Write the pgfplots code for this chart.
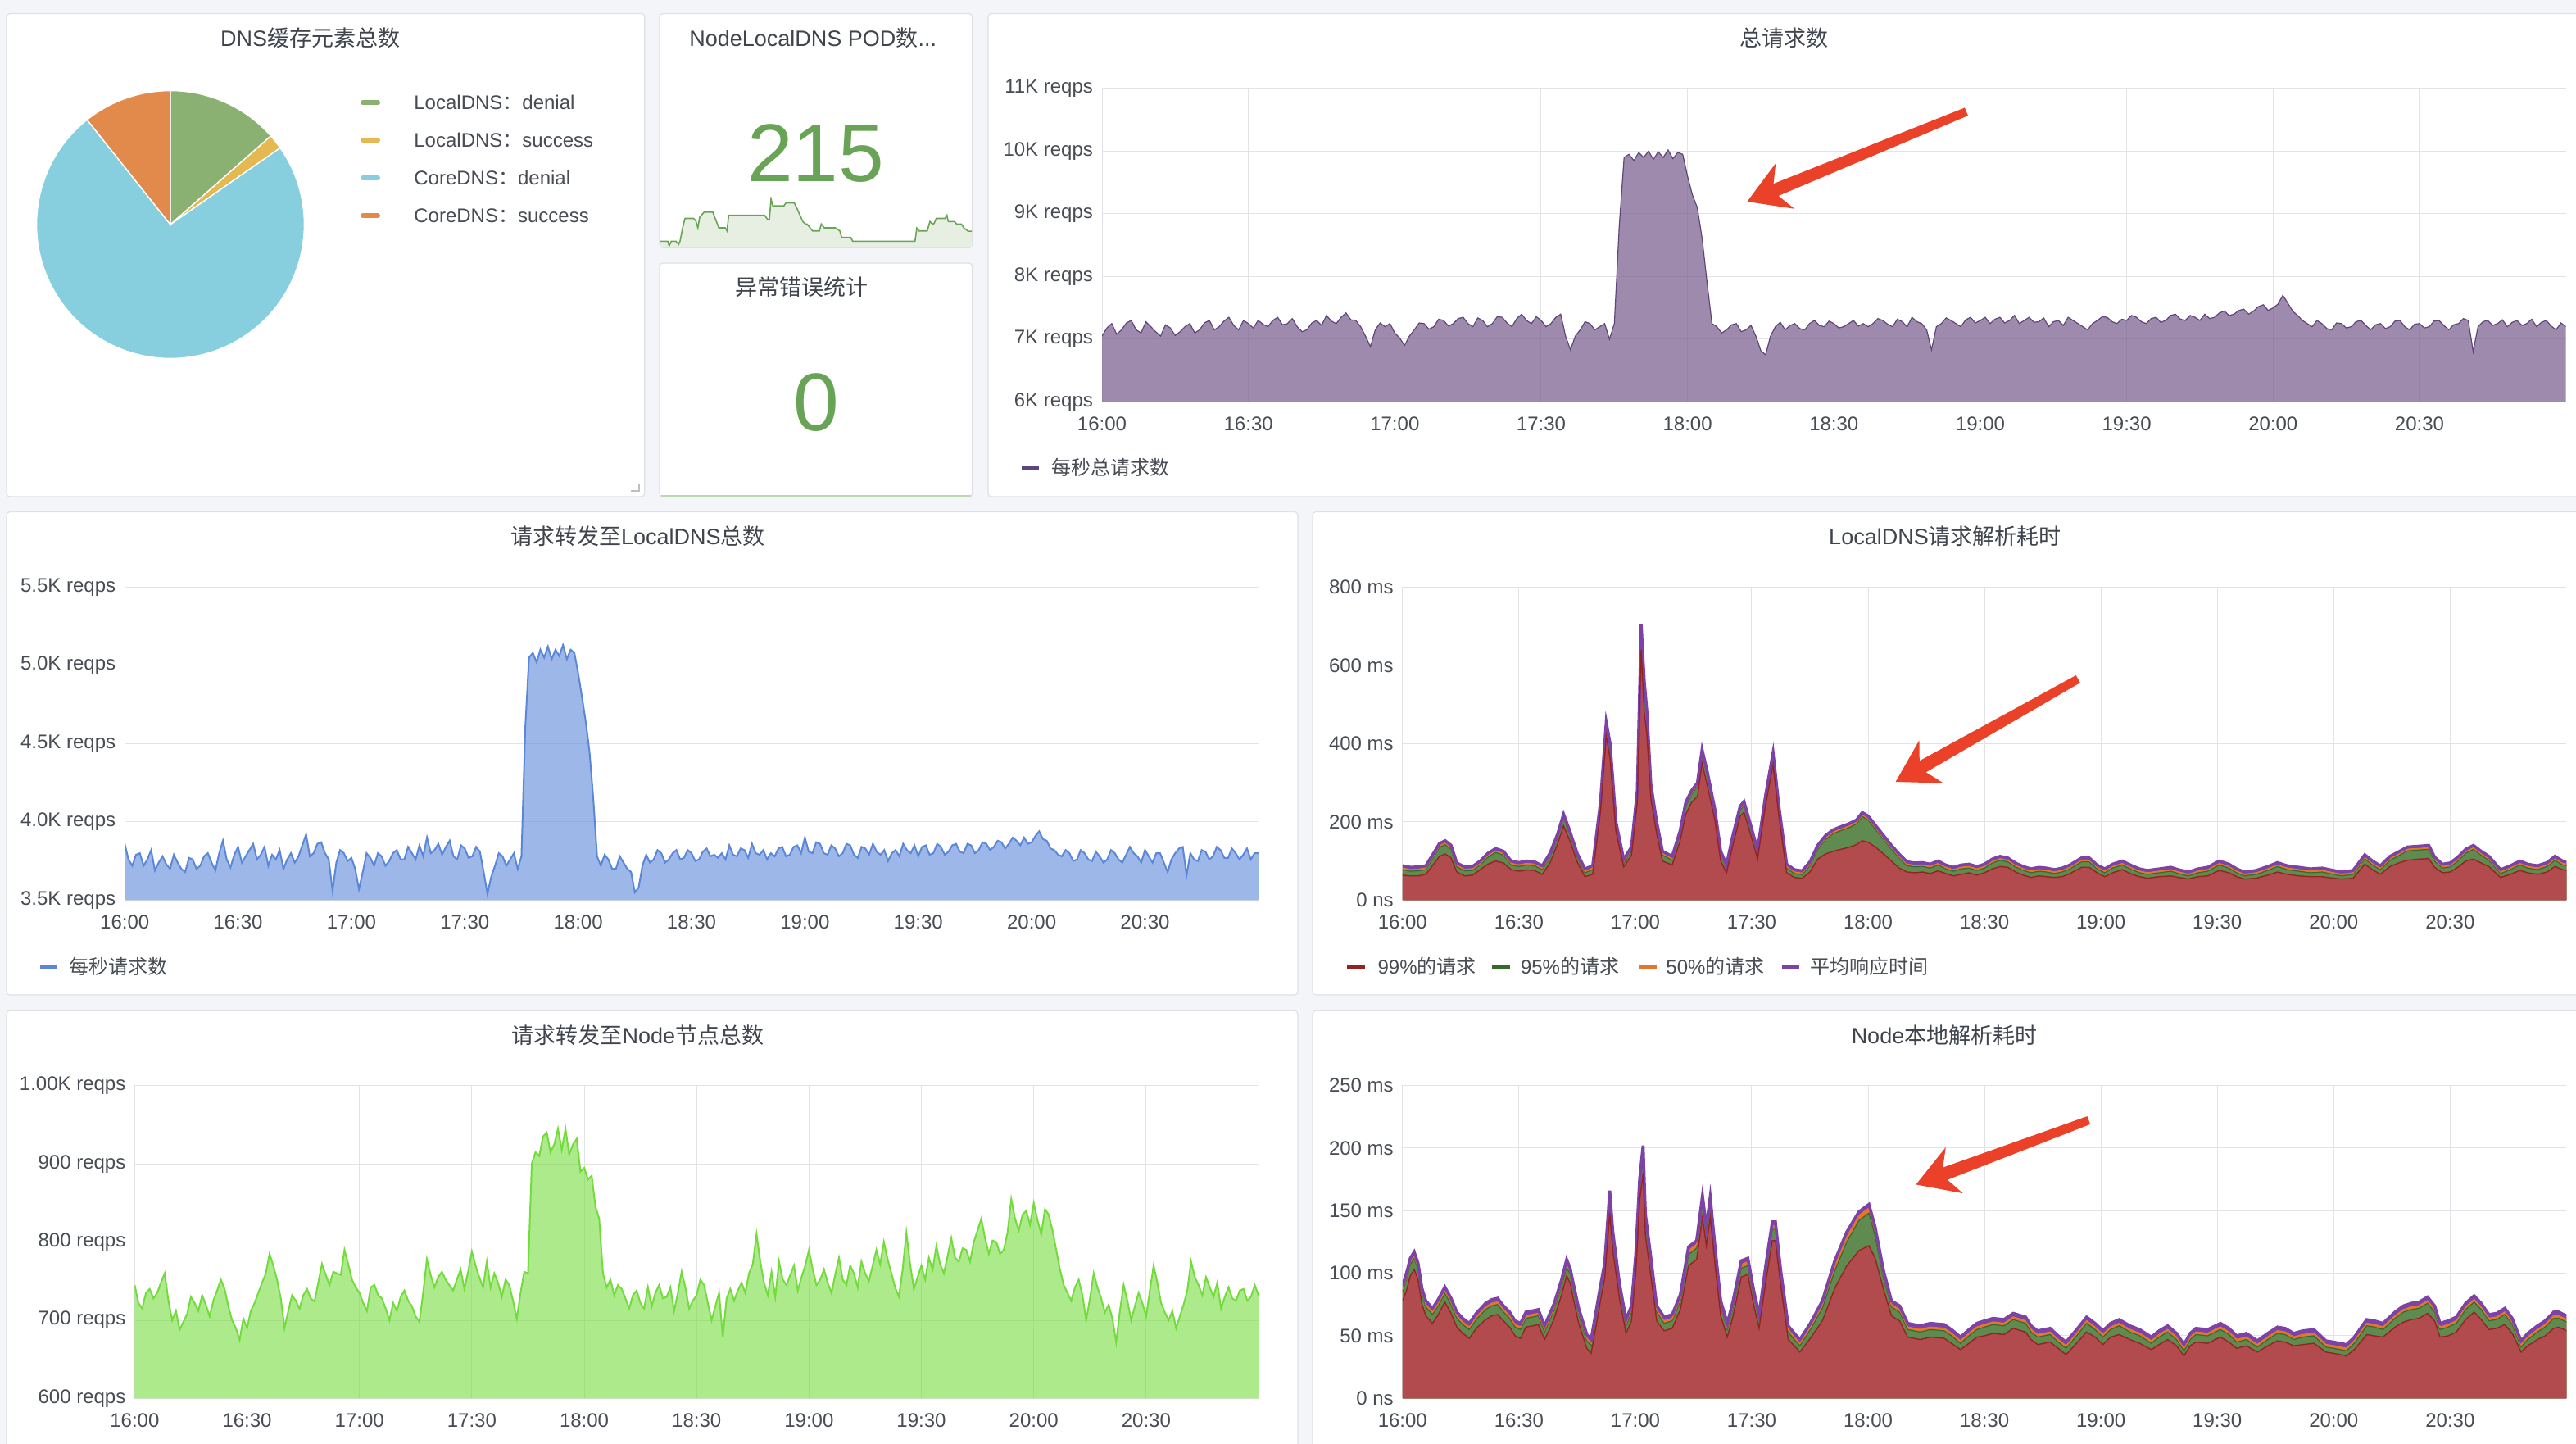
\documentclass[border=0pt]{standalone}
\usepackage{fontspec}
\setmainfont{Liberation Sans}
\newfontfamily\cjk{Noto Sans CJK SC}
\usepackage{pgfplots}
\pgfplotsset{compat=1.18}
\usepackage{pgfplotstable}

\definecolor{bgc}{RGB}{244,245,248}
\definecolor{panelb}{RGB}{222,224,228}
\definecolor{titlec}{RGB}{64,68,76}
\definecolor{tickc}{RGB}{72,76,84}
\definecolor{gridc}{RGB}{226,227,230}
\definecolor{pgreen}{RGB}{138,176,114}
\definecolor{pyellow}{RGB}{229,185,82}
\definecolor{pblue}{RGB}{135,206,222}
\definecolor{porange}{RGB}{226,138,76}
\definecolor{statg}{RGB}{105,163,85}
\definecolor{sparkf}{RGB}{230,239,225}
\definecolor{totl}{RGB}{95,70,122}
\definecolor{totf}{RGB}{118,89,138}
\definecolor{locl}{RGB}{90,135,215}
\definecolor{locf}{RGB}{93,137,217}
\definecolor{nodl}{RGB}{115,220,60}
\definecolor{nodf}{RGB}{117,220,63}
\definecolor{latr}{RGB}{178,75,77}
\definecolor{latrl}{RGB}{150,35,35}
\definecolor{latg}{RGB}{96,139,80}
\definecolor{latgl}{RGB}{55,105,40}
\definecolor{lato}{RGB}{224,118,48}
\definecolor{latp}{RGB}{124,66,168}
\definecolor{arrowc}{RGB}{234,65,40}

% requests per second: total, forwarded to LocalDNS, forwarded to node
\pgfplotstableread{
t tot loc nod
0 7050 3860 745
1 7180 3760 722
2 7250 3720 715
3 7080 3790 735
4 7150 3800 740
5 7260 3720 728
6 7300 3760 735
7 7150 3820 748
8 7100 3690 760
9 7280 3740 725
10 7200 3780 700
11 7120 3730 712
12 7050 3700 688
13 7230 3790 698
14 7180 3740 708
15 7060 3700 730
16 7120 3680 722
17 7200 3770 712
18 7250 3760 732
19 7100 3700 720
20 7150 3720 705
21 7260 3780 725
22 7300 3800 738
23 7150 3740 752
24 7200 3690 740
25 7290 3800 718
26 7350 3880 700
27 7220 3760 690
28 7150 3710 675
29 7300 3790 702
30 7250 3840 690
31 7180 3740 712
32 7300 3780 722
33 7240 3820 735
34 7200 3860 748
35 7300 3760 760
36 7350 3790 785
37 7230 3840 770
38 7250 3720 752
39 7330 3790 728
40 7200 3760 690
41 7120 3820 712
42 7150 3700 732
43 7260 3760 725
44 7300 3800 715
45 7220 3740 732
46 7380 3780 740
47 7290 3850 728
48 7250 3920 724
49 7350 3780 748
50 7420 3800 772
51 7310 3860 758
52 7300 3870 745
53 7200 3800 762
54 7050 3760 760
55 6880 3560 758
56 7150 3740 790
57 7260 3820 772
58 7200 3800 752
59 7250 3750 742
60 7100 3770 735
61 7020 3700 722
62 6900 3570 712
63 7050 3680 742
64 7150 3800 745
65 7260 3770 732
66 7250 3720 728
67 7160 3800 715
68 7200 3780 700
69 7320 3720 722
70 7300 3750 712
71 7210 3800 730
72 7250 3820 738
73 7330 3760 725
74 7350 3760 718
75 7250 3840 705
76 7200 3800 698
77 7340 3760 735
78 7300 3850 778
79 7200 3780 758
80 7250 3900 742
81 7360 3800 755
82 7350 3820 762
83 7260 3860 752
84 7200 3790 745
85 7330 3840 738
86 7400 3880 752
87 7300 3780 765
88 7250 3760 740
89 7360 3850 762
90 7300 3830 788
91 7200 3770 770
92 7250 3780 755
93 7350 3840 742
94 7400 3810 775
95 7050 3680 742
96 6830 3540 760
97 7050 3650 748
98 7150 3720 730
99 7280 3800 752
100 7250 3780 745
101 7150 3720 725
102 7200 3760 702
103 7250 3800 735
104 7000 3700 762
105 7250 3780 760
106 8800 4600 900
107 9900 5050 915
108 9950 5080 910
109 9850 5020 935
110 9980 5100 940
111 9900 5050 915
112 10000 5120 925
113 9870 5040 945
114 9990 5100 918
115 9900 5060 945
116 10020 5130 912
117 9880 5040 925
118 9980 5100 932
119 9950 5080 890
120 9600 4950 895
121 9300 4800 880
122 9100 4640 885
123 8600 4450 845
124 7900 4150 830
125 7250 3780 760
126 7200 3720 742
127 7100 3790 752
128 7150 3760 732
129 7230 3700 745
130 7250 3700 740
131 7120 3780 728
132 7150 3740 715
133 7220 3700 732
134 7050 3680 738
135 6820 3550 722
136 6750 3580 715
137 7050 3720 742
138 7200 3790 718
139 7270 3740 735
140 7150 3760 745
141 7220 3820 728
142 7250 3800 730
143 7170 3740 742
144 7150 3760 712
145 7250 3800 735
146 7300 3820 762
147 7220 3760 742
148 7200 3770 715
149 7290 3820 725
150 7250 3800 732
151 7180 3750 752
152 7200 3760 745
153 7250 3810 722
154 7300 3830 700
155 7210 3780 718
156 7250 3790 735
157 7200 3770 678
158 7250 3800 728
159 7330 3760 740
160 7300 3850 725
161 7240 3790 738
162 7200 3780 748
163 7320 3830 735
164 7280 3820 760
165 7200 3770 772
166 7350 3860 810
167 7280 3800 775
168 7250 3790 748
169 7150 3820 732
170 6830 3760 762
171 7200 3800 730
172 7250 3780 775
173 7340 3830 752
174 7300 3840 745
175 7250 3780 758
176 7200 3790 770
177 7310 3840 738
178 7350 3850 755
179 7260 3800 770
180 7300 3900 790
181 7350 3810 765
182 7250 3800 745
183 7320 3870 752
184 7350 3860 765
185 7260 3800 748
186 7300 3790 735
187 7380 3850 758
188 7250 3830 780
189 7300 3780 752
190 7350 3800 745
191 7270 3860 770
192 7280 3850 760
193 7340 3790 742
194 7200 3770 775
195 7280 3840 760
196 7300 3830 750
197 7220 3790 770
198 7350 3860 790
199 7300 3810 772
200 7250 3790 800
201 7200 3820 778
202 7150 3750 760
203 7250 3800 742
204 7300 3820 730
205 7360 3780 765
206 7350 3860 812
207 7280 3820 772
208 7250 3800 740
209 7320 3850 755
210 7300 3780 770
211 7380 3840 752
212 7350 3850 780
213 7280 3790 765
214 7250 3800 795
215 7330 3860 772
216 7350 3840 760
217 7270 3790 782
218 7300 3810 805
219 7380 3850 780
220 7400 3860 775
221 7320 3810 792
222 7300 3800 790
223 7380 3860 775
224 7350 3850 800
225 7300 3800 815
226 7400 3820 830
227 7330 3870 805
228 7350 3860 785
229 7420 3820 802
230 7450 3840 800
231 7380 3880 785
232 7400 3870 790
233 7460 3830 812
234 7480 3860 855
235 7400 3900 830
236 7450 3880 815
237 7520 3850 835
238 7550 3900 840
239 7460 3860 822
240 7500 3870 850
241 7560 3910 828
242 7700 3940 810
243 7580 3890 842
244 7450 3880 835
245 7380 3830 815
246 7300 3820 790
247 7250 3790 765
248 7200 3780 745
249 7300 3820 735
250 7250 3800 725
251 7170 3750 742
252 7150 3760 752
253 7260 3820 732
254 7250 3800 700
255 7180 3760 728
256 7200 3750 760
257 7280 3810 742
258 7300 3780 728
259 7220 3740 710
260 7150 3760 720
261 7230 3820 702
262 7250 3800 672
263 7170 3760 712
264 7200 3740 745
265 7290 3790 725
266 7300 3840 700
267 7200 3800 718
268 7150 3780 735
269 7240 3740 722
270 7250 3820 705
271 7180 3780 738
272 7200 3740 770
273 7290 3800 748
274 7300 3800 722
275 7220 3740 710
276 7150 3680 700
277 7230 3760 712
278 7250 3800 690
279 7330 3830 705
280 7300 3840 720
281 6800 3660 738
282 7200 3800 775
283 7280 3760 755
284 7300 3750 745
285 7220 3820 732
286 7250 3810 755
287 7310 3760 742
288 7200 3780 730
289 7270 3840 748
290 7300 3820 715
291 7220 3770 730
292 7250 3770 742
293 7320 3830 728
294 7200 3800 725
295 7270 3760 738
296 7300 3790 740
297 7210 3830 725
298 7150 3760 730
299 7260 3800 745
300 7200 3800 732
}\req

% LocalDNS latency (ms): tops of the 99%, 95%, 50% and mean bands
\pgfplotstableread{
t r g o p
0 64 78 82 88
2 62 74 78 84
4 62 75 79 85
6 66 78 82 88
8 92 110 114 120
9.5 112 135 139 145
11 118 142 146 152
12.5 108 130 134 140
14 72 85 89 95
16 62 75 79 85
18 64 76 80 86
20 78 90 94 100
22 92 110 114 120
24 100 122 126 132
26 95 115 119 125
28 78 90 94 100
30 74 86 90 96
32 77 90 94 100
34 76 88 92 98
36 66 78 82 88
38 95 110 114 120
40 145 160 164 170
41.5 190 210 214 220
43 155 170 174 180
45 98 110 114 120
47 60 70 74 80
49 66 78 82 88
51 225 240 244 250
52.5 420 445 449 455
53.5 360 390 394 400
55 175 190 194 200
57 85 94 98 104
59 115 126 130 136
60.5 250 270 274 280
61.5 640 695 699 705
62.3 480 550 554 560
63 420 470 474 480
64 260 286 290 296
65.5 170 190 194 200
67 100 115 119 125
69.5 90 102 106 112
71.5 150 166 170 176
73 220 240 244 250
74.5 250 270 274 280
76 265 290 294 300
77.2 350 375 379 385
78.5 295 320 324 330
80.5 205 222 226 232
82 100 115 119 125
83.5 70 80 84 90
85 135 150 154 160
87 215 230 234 240
88 225 242 246 252
89.5 175 190 194 200
91.5 105 118 122 128
93.5 240 254 258 264
95.5 345 367 371 377
97 215 230 234 240
99 70 82 86 92
101 58 68 72 78
103 56 65 69 75
105 72 88 92 98
107 105 130 134 140
109 118 155 159 165
111 125 170 174 180
113 130 178 182 188
115 135 185 189 195
117 142 195 199 205
118.5 152 214 218 224
120 148 205 209 215
122 135 180 184 190
124 118 155 159 165
126 100 130 134 140
128 82 108 112 118
130 72 88 92 98
132 70 85 89 95
134 72 86 90 96
136 68 82 86 92
138 75 90 94 100
140 68 80 84 90
142 62 74 78 84
144 66 80 84 90
146 70 82 86 92
148 64 76 80 86
150 70 82 86 92
152 80 95 99 105
154 86 102 106 112
156 84 98 102 108
158 72 85 89 95
160 64 76 80 86
162 58 70 74 80
164 62 74 78 84
166 60 72 76 82
168 58 68 72 78
170 60 72 76 82
172 68 80 84 90
175 84 98 102 108
177 84 98 102 108
179 70 80 84 90
181 60 70 74 80
183 70 82 86 92
185.5 78 90 94 100
188 66 78 82 88
190 60 70 74 80
192 56 66 70 76
195 60 70 74 80
198 62 74 78 84
200 58 68 72 78
202.5 54 62 66 72
205 60 70 74 80
207.5 62 74 78 84
210.5 76 90 94 100
213 70 82 86 92
215 60 70 74 80
217 54 62 66 72
220 56 66 70 76
223 64 76 80 86
225.5 72 86 90 96
228 66 78 82 88
231 62 74 78 84
234 60 70 74 80
237 60 72 76 82
240 56 66 70 76
242 54 62 66 72
245 56 66 70 76
248 92 106 110 116
250 78 90 94 100
252 66 78 82 88
254.5 86 102 106 112
257 96 115 119 125
259 102 126 130 136
262 105 128 132 138
264.5 106 130 134 140
266 84 100 104 110
268 70 82 86 92
270 72 85 89 95
272 84 100 104 110
274 100 120 124 130
276 105 130 134 140
278 95 115 119 125
280 86 102 106 112
283 58 68 72 78
285.5 66 78 82 88
288 76 90 94 100
290 70 82 86 92
292.5 66 78 82 88
295 72 86 90 96
297 86 102 106 112
299 78 90 94 100
300 76 88 92 98
}\latA

% Node local latency (ms)
\pgfplotstableread{
t r g o p
0 78 85 87 90
1 86 95 97 100
2 98 107 109 112
3 103 112 114 117
4 95 103 105 108
5 75 83 85 88
6 66 73 75 78
7.7 60 67 69 72
9 66 73 75 78
10.9 77 84 86 89
12.5 68 75 77 80
14 57 64 66 69
15.5 52 59 61 64
17.2 48 55 57 60
19 56 63 65 68
21.4 63 71 73 76
23 66 74 76 79
24.5 67 75 77 80
26 62 69 71 74
27.6 57 64 66 69
29 50 57 59 62
30.4 48 55 57 60
31.8 57 64 66 69
33.5 58 65 67 70
35 59 66 68 71
36.6 47 53 55 58
38 56 63 65 68
39.1 64 71 73 76
41 83 90 92 95
42.3 98 105 108 111
43.2 92 99 101 104
44 80 87 89 92
45.4 60 67 69 72
47.5 40 46 48 51
48.6 36 42 44 47
50 60 67 69 72
51 78 85 87 90
52.1 96 103 105 108
53.4 148 160 163 166
54.2 118 127 130 133
55.9 80 87 89 92
57.6 52 58 60 63
59 62 69 71 74
60.1 100 109 112 115
61.1 158 169 172 175
62 180 196 199 202
62.6 130 141 144 147
63.9 100 109 112 115
65.5 62 69 71 74
67.4 54 60 62 65
69.5 56 62 64 67
71.6 71 78 80 83
73.7 106 115 118 121
75.8 111 120 123 126
77.3 145 156 159 162
78.3 122 131 134 137
79.3 145 155 158 161
80.6 105 113 116 119
82 66 73 75 78
83.7 49 55 57 60
85.2 66 73 75 78
87.3 97 104 107 110
89 99 106 109 112
90.4 76 83 85 88
91.9 56 62 64 67
93.6 93 100 103 106
95.3 126 135 138 141
96.1 126 135 138 141
97.4 92 98 101 104
99.4 47 53 55 58
101 42 47 49 52
102.4 37 42 44 47
105.1 48 55 57 60
108.2 62 72 75 78
111.4 88 102 106 110
114.5 106 125 129 133
117.6 118 142 146 149
120.2 122 148 152 155
121.8 112 130 134 137
123.9 88 97 100 103
126 66 73 75 78
128.1 62 69 71 74
130.2 49 55 57 60
133.4 47 53 55 58
136 49 55 57 60
139.6 48 54 56 59
141.5 44 50 52 55
143.8 39 44 46 49
146 44 50 52 55
148 49 55 57 60
150 50 57 59 62
152.2 52 59 61 64
155 51 58 60 63
157.4 56 63 65 68
160.6 53 60 62 65
162 47 53 55 58
163.7 43 49 51 54
166.9 45 51 53 56
169 40 45 47 50
171 35 40 42 45
174 45 51 53 56
176.3 53 60 62 65
178.5 49 55 57 60
180.5 43 49 51 54
182.5 49 55 57 60
184.7 51 58 60 63
187.5 47 53 55 58
190 44 50 52 55
193 39 44 46 49
195 43 49 51 54
197.2 47 53 55 58
199.5 42 47 49 52
201.4 34 38 40 43
203 42 47 49 52
204.5 45 51 53 56
207.5 44 50 52 55
210.8 49 55 57 60
213 45 51 53 56
215 40 45 47 50
217.5 42 47 49 52
220.3 37 41 43 46
223 42 47 49 52
225.5 46 52 54 57
227.5 45 51 53 56
229.7 42 47 49 52
232 43 49 51 54
234.9 44 50 52 55
238 37 41 43 46
240 36 40 42 45
243.3 34 38 40 43
245.3 39 44 46 49
248.5 51 58 60 63
250.5 50 57 59 62
252.7 49 55 57 60
255.8 57 64 66 69
258 61 69 71 74
260 63 71 73 76
262 64 72 74 77
264.2 68 76 78 81
266 62 69 71 74
267.4 49 55 57 60
269.5 50 57 59 62
271.6 53 60 62 65
274 63 71 73 76
276.2 69 77 79 82
278 63 71 73 76
280 55 62 64 67
282 56 63 65 68
284.1 59 67 69 72
286 52 59 61 64
288.3 37 41 43 46
290 42 47 49 52
292.5 47 53 55 58
294.5 50 57 59 62
296.7 56 64 66 69
298 57 64 66 69
300 54 61 63 66
}\latB

% NodeLocalDNS pod count sparkline
\pgfplotstableread{
t v
0 212.0
7.1 212.0
8.4 210.5
10.5 212.0
15.0 212.0
17.6 211.0
18.9 212.0
21.6 216.5
23.7 219.3
32.1 219.3
34.2 218.5
36.1 216.3
37.9 219.7
42.1 221.3
50.5 221.3
52.6 219.5
56.3 216.3
62.4 216.3
64.2 215.3
65.8 220.3
100.5 220.3
103.2 219.0
105.0 219.0
106.6 225.5
108.4 223.3
118.9 223.3
121.1 224.3
128.9 224.3
131.6 222.5
137.4 218.2
140.0 217.5
141.3 217.5
146.6 215.3
153.2 215.3
155.0 217.5
157.9 216.3
168.4 216.3
172.9 215.3
174.7 213.2
183.4 213.2
185.3 212.0
245.3 212.0
247.1 216.2
249.2 215.3
257.1 215.3
259.7 218.3
262.4 217.5
263.7 217.7
265.8 219.3
274.2 219.3
276.1 220.3
277.4 218.3
283.4 218.3
285.5 217.5
290.0 217.5
292.6 216.2
296.6 215.2
300 215.2
}\pods

\newcommand{\tk}{\fontsize{12}{14}\selectfont}
\newcommand{\ttl}{\fontsize{13.5}{16}\selectfont}

\pgfplotsset{
  gf/.style={
    scale only axis, anchor=south west,
    xmin=0, xmax=300,
    axis line style={draw=none},
    tick style={draw=none},
    grid=major,
    major grid style={draw=gridc, line width=0.5pt},
    xtick={0,30,...,270},
    xticklabels={16:00,16:30,17:00,17:30,18:00,18:30,19:00,19:30,20:00,20:30},
    ticklabel style={font=\tk, text=tickc},
    xticklabel style={yshift=-5.5pt},
    yticklabel style={xshift=-2pt},
    scaled y ticks=false,
    /pgf/number format/assume math mode=true,
    no markers,
  }
}

\newcommand{\redarrow}[4]{%
  \fill[arrowc, shift={(#1,#2)}, rotate=#3] (0,0) -- (25,-15) -- (19,-4) -- (#4,-2.6) -- (#4,2.6) -- (19,4) -- (25,15) -- cycle;}

\begin{document}
\begin{tikzpicture}[x=1pt,y=1pt]
\useasboundingbox (0,0) rectangle (1572,881);
\fill[bgc] (0,0) rectangle (1572,881);

% panels
\begin{scope}[fill=white, draw=panelb, line width=0.6pt, rounded corners=2pt]
\filldraw (4,578) rectangle (393.4,872.7);
\filldraw (402.5,729.8) rectangle (593.3,872.7);
\filldraw (402.5,578) rectangle (593.3,720.5);
\filldraw (603,578) rectangle (1590,872.7);
\filldraw (4,274) rectangle (792,568.7);
\filldraw (801,274) rectangle (1590,568.7);
\filldraw (4,-10) rectangle (792,264.4);
\filldraw (801,-10) rectangle (1590,264.4);
\end{scope}
\draw[gray!50, line width=0.8pt] (385,581.5) -- (390,581.5) -- (390,586);

% titles
\node[font=\ttl, text=titlec] at (189.3,857.7) {DNS{\cjk 缓存元素总数}};
\node[font=\ttl, text=titlec] at (496.1,857.7) {NodeLocalDNS POD{\cjk 数}...};
\node[font=\ttl, text=titlec] at (489,706.1) {\cjk 异常错误统计};
\node[font=\ttl, text=titlec] at (1088.8,857.7) {\cjk 总请求数};
\node[font=\ttl, text=titlec] at (389.2,553.8) {{\cjk 请求转发至}LocalDNS{\cjk 总数}};
\node[font=\ttl, text=titlec] at (1187,553.8) {LocalDNS{\cjk 请求解析耗时}};
\node[font=\ttl, text=titlec] at (389.2,249.4) {{\cjk 请求转发至}Node{\cjk 节点总数}};
\node[font=\ttl, text=titlec] at (1186.5,249.4) {Node{\cjk 本地解析耗时}};

% pie: cache entries
\def\pcum{0}
\foreach \v/\c in {13.5/pgreen,1.8/pyellow,74.0/pblue,10.7/porange}{
  \pgfmathsetmacro\aa{90-3.6*\pcum}
  \pgfmathsetmacro\bb{90-3.6*(\pcum+\v)}
  \filldraw[fill=\c, draw=white, line width=0.7pt] (104,744) -- ++(\aa:81.7) arc[start angle=\aa, end angle=\bb, radius=81.7] -- cycle;
  \pgfmathsetmacro\pnew{\pcum+\v}
  \global\let\pcum\pnew
}
\foreach \c/\yy/\txt in {pgreen/818.4/{LocalDNS{\cjk ：}denial},pyellow/795.4/{LocalDNS{\cjk ：}success},pblue/772.5/{CoreDNS{\cjk ：}denial},porange/749.4/{CoreDNS{\cjk ：}success}}{
  \draw[\c, line width=3pt, line cap=round] (221.5,\yy) -- (230.5,\yy);
  \node[anchor=west, inner sep=0, font=\tk, text=tickc] at (252.5,\yy) {\txt};
}

% stat panels
\begin{axis}[at={(403pt,730pt)}, anchor=south west, scale only axis, width=190pt, height=30.5pt,
  hide axis, xmin=0, xmax=300, ymin=210, ymax=226]
\addplot[draw=none, fill=sparkf] table[x=t,y=v]{\pods} \closedcycle;
\addplot[statg, line width=0.8pt] table[x=t,y=v]{\pods};
\end{axis}
\node[font=\fontsize{50}{60}\selectfont, text=statg] at (497.8,787.4) {215};
\node[font=\fontsize{50}{60}\selectfont, text=statg] at (498,635.6) {0};
\draw[statg!45, line width=0.8pt] (403.5,578.6) -- (592.5,578.6);

% total requests
\begin{axis}[gf, at={(672.5pt,635.8pt)}, width=893.3pt, height=191.2pt,
  ymin=6000, ymax=11000, ytick={6000,7000,...,11000},
  yticklabels={6K reqps,7K reqps,8K reqps,9K reqps,10K reqps,11K reqps}]
\addplot[draw=none, fill=totf, fill opacity=0.7] table[x=t,y=tot]{\req} \closedcycle;
\addplot[totl, line width=0.6pt] table[x=t,y=tot]{\req};
\end{axis}
\draw[totl, line width=2pt] (623.6,595.7) -- (634,595.7);
\node[anchor=west, inner sep=0, font=\tk, text=tickc] at (641.5,595.7) {\cjk 每秒总请求数};

% forwarded to LocalDNS
\begin{axis}[gf, at={(76.1pt,331.8pt)}, width=691.8pt, height=191pt,
  ymin=3500, ymax=5500, ytick={3500,4000,4500,5000,5500},
  yticklabels={3.5K reqps,4.0K reqps,4.5K reqps,5.0K reqps,5.5K reqps}]
\addplot[draw=none, fill=locf, fill opacity=0.6] table[x=t,y=loc]{\req} \closedcycle;
\addplot[locl, line width=1pt] table[x=t,y=loc]{\req};
\end{axis}
\draw[locl, line width=2pt] (24.3,291.2) -- (34.5,291.2);
\node[anchor=west, inner sep=0, font=\tk, text=tickc] at (42.1,291.2) {\cjk 每秒请求数};

% LocalDNS latency
\begin{axis}[gf, at={(855.9pt,331.8pt)}, width=710.3pt, height=191pt,
  ymin=0, ymax=800, ytick={0,200,...,800},
  yticklabels={0 ns,200 ms,400 ms,600 ms,800 ms}]
\addplot[draw=none, fill=latp] table[x=t,y=p]{\latA} \closedcycle;
\addplot[draw=none, fill=lato] table[x=t,y=o]{\latA} \closedcycle;
\addplot[draw=none, fill=latg] table[x=t,y=g]{\latA} \closedcycle;
\addplot[draw=none, fill=latr] table[x=t,y=r]{\latA} \closedcycle;
\addplot[latgl, line width=0.6pt] table[x=t,y=g]{\latA};
\addplot[lato, line width=0.8pt] table[x=t,y=o]{\latA};
\addplot[latp, line width=1.8pt] table[x=t,y=p]{\latA};
\addplot[latrl, line width=0.7pt] table[x=t,y=r]{\latA};
\end{axis}
\foreach \c/\xa/\xt/\txt in {latrl/822/840.6/{99\%{\cjk 的请求}},latgl/910.5/927.8/{95\%{\cjk 的请求}},lato/1000/1016.5/{50\%{\cjk 的请求}},latp/1087.4/1104.7/{\cjk 平均响应时间}}{
  \draw[\c, line width=2pt] (\xa,291.2) -- ++(10.8,0);
  \node[anchor=west, inner sep=0, font=\tk, text=tickc] at (\xt,291.2) {\txt};
}

% forwarded to node
\begin{axis}[gf, at={(82.2pt,27.8pt)}, width=685.8pt, height=190.8pt,
  ymin=600, ymax=1000, ytick={600,700,800,900,1000},
  yticklabels={600 reqps,700 reqps,800 reqps,900 reqps,1.00K reqps}]
\addplot[draw=none, fill=nodf, fill opacity=0.6] table[x=t,y=nod]{\req} \closedcycle;
\addplot[nodl, line width=1pt] table[x=t,y=nod]{\req};
\end{axis}

% node local latency
\begin{axis}[gf, at={(855.9pt,27.8pt)}, width=710.3pt, height=191pt,
  ymin=0, ymax=250, ytick={0,50,...,250},
  yticklabels={0 ns,50 ms,100 ms,150 ms,200 ms,250 ms}]
\addplot[draw=none, fill=latp] table[x=t,y=p]{\latB} \closedcycle;
\addplot[draw=none, fill=lato] table[x=t,y=o]{\latB} \closedcycle;
\addplot[draw=none, fill=latg] table[x=t,y=g]{\latB} \closedcycle;
\addplot[draw=none, fill=latr] table[x=t,y=r]{\latB} \closedcycle;
\addplot[latgl, line width=0.6pt] table[x=t,y=g]{\latB};
\addplot[lato, line width=0.8pt] table[x=t,y=o]{\latB};
\addplot[latp, line width=1.8pt] table[x=t,y=p]{\latB};
\addplot[latrl, line width=0.7pt] table[x=t,y=r]{\latB};
\end{axis}

% annotation arrows
\redarrow{1066.2}{758}{22.3}{144.6}
\redarrow{1156.8}{404}{29.4}{127.8}
\redarrow{1169.2}{158.3}{20.4}{112.5}
\end{tikzpicture}
\end{document}
